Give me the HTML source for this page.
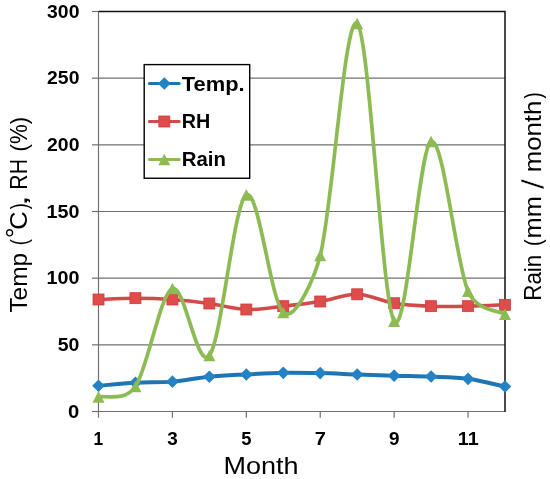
<!DOCTYPE html>
<html><head><meta charset="utf-8"><title>Chart</title>
<style>html,body{margin:0;padding:0;background:#fff}body{width:550px;height:479px;overflow:hidden}</style>
</head><body>
<svg width="550" height="479" viewBox="0 0 550 479" style="display:block;font-family:'Liberation Sans',sans-serif">
<rect width="550" height="479" fill="#fff"/>
<line x1="98.5" y1="344.83" x2="505.0" y2="344.83" stroke="#707070" stroke-width="1.2"/>
<line x1="98.5" y1="278.17" x2="505.0" y2="278.17" stroke="#707070" stroke-width="1.2"/>
<line x1="98.5" y1="211.50" x2="505.0" y2="211.50" stroke="#707070" stroke-width="1.2"/>
<line x1="98.5" y1="144.83" x2="505.0" y2="144.83" stroke="#707070" stroke-width="1.2"/>
<line x1="98.5" y1="78.17" x2="505.0" y2="78.17" stroke="#707070" stroke-width="1.2"/>
<line x1="92" y1="411.50" x2="98.5" y2="411.50" stroke="#707070" stroke-width="1.2"/>
<line x1="92" y1="344.83" x2="98.5" y2="344.83" stroke="#707070" stroke-width="1.2"/>
<line x1="92" y1="278.17" x2="98.5" y2="278.17" stroke="#707070" stroke-width="1.2"/>
<line x1="92" y1="211.50" x2="98.5" y2="211.50" stroke="#707070" stroke-width="1.2"/>
<line x1="92" y1="144.83" x2="98.5" y2="144.83" stroke="#707070" stroke-width="1.2"/>
<line x1="92" y1="78.17" x2="98.5" y2="78.17" stroke="#707070" stroke-width="1.2"/>
<line x1="92" y1="11.50" x2="98.5" y2="11.50" stroke="#707070" stroke-width="1.2"/>
<line x1="98.50" y1="411.50" x2="98.50" y2="417.8" stroke="#707070" stroke-width="1.2"/>
<line x1="172.41" y1="411.50" x2="172.41" y2="417.8" stroke="#707070" stroke-width="1.2"/>
<line x1="246.32" y1="411.50" x2="246.32" y2="417.8" stroke="#707070" stroke-width="1.2"/>
<line x1="320.23" y1="411.50" x2="320.23" y2="417.8" stroke="#707070" stroke-width="1.2"/>
<line x1="394.14" y1="411.50" x2="394.14" y2="417.8" stroke="#707070" stroke-width="1.2"/>
<line x1="468.05" y1="411.50" x2="468.05" y2="417.8" stroke="#707070" stroke-width="1.2"/>
<line x1="98.5" y1="11.50" x2="98.5" y2="412.00" stroke="#707070" stroke-width="1.2"/>
<line x1="98.5" y1="411.50" x2="505.0" y2="411.50" stroke="#707070" stroke-width="1.2"/>
<path d="M98.5,11.50 L505.0,11.50 L505.0,412.00" fill="none" stroke="#111" stroke-width="1.5"/>
<path d="M98.50,385.77 C104.66,385.26 123.14,383.39 135.45,382.70 C147.77,382.01 160.09,382.63 172.41,381.63 C184.73,380.63 197.05,377.90 209.36,376.70 C221.68,375.50 234.00,375.08 246.32,374.43 C258.64,373.79 270.95,373.06 283.27,372.83 C295.59,372.61 307.91,372.83 320.23,373.10 C332.55,373.37 344.86,374.01 357.18,374.43 C369.50,374.86 381.82,375.28 394.14,375.63 C406.45,375.99 418.77,376.03 431.09,376.57 C443.41,377.10 455.73,377.17 468.05,378.83 C480.36,380.50 498.84,385.28 505.00,386.57" fill="none" stroke="#1d76b3" stroke-width="4.0" stroke-linejoin="round" stroke-linecap="round"/>
<path d="M98.50,379.47 L104.80,385.77 L98.50,392.07 L92.20,385.77 Z" fill="#2482c4"/>
<path d="M135.45,376.40 L141.75,382.70 L135.45,389.00 L129.15,382.70 Z" fill="#2482c4"/>
<path d="M172.41,375.33 L178.71,381.63 L172.41,387.93 L166.11,381.63 Z" fill="#2482c4"/>
<path d="M209.36,370.40 L215.66,376.70 L209.36,383.00 L203.06,376.70 Z" fill="#2482c4"/>
<path d="M246.32,368.13 L252.62,374.43 L246.32,380.73 L240.02,374.43 Z" fill="#2482c4"/>
<path d="M283.27,366.53 L289.57,372.83 L283.27,379.13 L276.97,372.83 Z" fill="#2482c4"/>
<path d="M320.23,366.80 L326.53,373.10 L320.23,379.40 L313.93,373.10 Z" fill="#2482c4"/>
<path d="M357.18,368.13 L363.48,374.43 L357.18,380.73 L350.88,374.43 Z" fill="#2482c4"/>
<path d="M394.14,369.33 L400.44,375.63 L394.14,381.93 L387.84,375.63 Z" fill="#2482c4"/>
<path d="M431.09,370.27 L437.39,376.57 L431.09,382.87 L424.79,376.57 Z" fill="#2482c4"/>
<path d="M468.05,372.53 L474.35,378.83 L468.05,385.13 L461.75,378.83 Z" fill="#2482c4"/>
<path d="M505.00,380.27 L511.30,386.57 L505.00,392.87 L498.70,386.57 Z" fill="#2482c4"/>
<path d="M98.50,299.50 C104.66,299.28 123.14,298.17 135.45,298.17 C147.77,298.17 160.09,298.61 172.41,299.50 C184.73,300.39 197.05,301.83 209.36,303.50 C221.68,305.17 234.00,309.06 246.32,309.50 C258.64,309.94 270.95,307.50 283.27,306.17 C295.59,304.83 307.91,303.48 320.23,301.50 C332.55,299.52 344.86,294.01 357.18,294.30 C369.50,294.59 381.82,301.26 394.14,303.23 C406.45,305.21 418.77,305.68 431.09,306.17 C443.41,306.66 455.73,306.39 468.05,306.17 C480.36,305.94 498.84,305.06 505.00,304.83" fill="none" stroke="#d04b4a" stroke-width="3.5" stroke-linejoin="round" stroke-linecap="round"/>
<rect x="93.00" y="294.00" width="11.00" height="11.00" fill="#de4c4c" stroke="#cf3c3c" stroke-width="0.8"/>
<rect x="129.95" y="292.67" width="11.00" height="11.00" fill="#de4c4c" stroke="#cf3c3c" stroke-width="0.8"/>
<rect x="166.91" y="294.00" width="11.00" height="11.00" fill="#de4c4c" stroke="#cf3c3c" stroke-width="0.8"/>
<rect x="203.86" y="298.00" width="11.00" height="11.00" fill="#de4c4c" stroke="#cf3c3c" stroke-width="0.8"/>
<rect x="240.82" y="304.00" width="11.00" height="11.00" fill="#de4c4c" stroke="#cf3c3c" stroke-width="0.8"/>
<rect x="277.77" y="300.67" width="11.00" height="11.00" fill="#de4c4c" stroke="#cf3c3c" stroke-width="0.8"/>
<rect x="314.73" y="296.00" width="11.00" height="11.00" fill="#de4c4c" stroke="#cf3c3c" stroke-width="0.8"/>
<rect x="351.68" y="288.80" width="11.00" height="11.00" fill="#de4c4c" stroke="#cf3c3c" stroke-width="0.8"/>
<rect x="388.64" y="297.73" width="11.00" height="11.00" fill="#de4c4c" stroke="#cf3c3c" stroke-width="0.8"/>
<rect x="425.59" y="300.67" width="11.00" height="11.00" fill="#de4c4c" stroke="#cf3c3c" stroke-width="0.8"/>
<rect x="462.55" y="300.67" width="11.00" height="11.00" fill="#de4c4c" stroke="#cf3c3c" stroke-width="0.8"/>
<rect x="499.50" y="299.33" width="11.00" height="11.00" fill="#de4c4c" stroke="#cf3c3c" stroke-width="0.8"/>
<path d="M98.50,396.83 C104.66,395.10 124.63,402.29 135.45,386.43 C147.77,368.39 160.09,293.72 172.41,288.57 C184.73,283.41 197.05,371.12 209.36,355.50 C221.68,339.88 234.00,201.99 246.32,194.83 C258.64,187.68 270.95,302.46 283.27,312.57 C295.59,322.68 315.01,275.92 320.23,255.50 C332.55,207.32 344.86,12.57 357.18,23.50 C369.50,34.43 381.82,301.43 394.14,321.10 C406.45,340.77 418.77,146.48 431.09,141.50 C443.41,136.52 455.73,262.46 468.05,291.23 C476.60,311.22 498.84,310.34 505.00,314.17" fill="none" stroke="#8bbb52" stroke-width="3.7" stroke-linejoin="round" stroke-linecap="round"/>
<path d="M98.50,391.03 L104.50,402.63 L92.50,402.63 Z" fill="#8eba52"/>
<path d="M135.45,380.63 L141.45,392.23 L129.45,392.23 Z" fill="#8eba52"/>
<path d="M172.41,282.77 L178.41,294.37 L166.41,294.37 Z" fill="#8eba52"/>
<path d="M209.36,349.70 L215.36,361.30 L203.36,361.30 Z" fill="#8eba52"/>
<path d="M246.32,189.03 L252.32,200.63 L240.32,200.63 Z" fill="#8eba52"/>
<path d="M283.27,306.77 L289.27,318.37 L277.27,318.37 Z" fill="#8eba52"/>
<path d="M320.23,249.70 L326.23,261.30 L314.23,261.30 Z" fill="#8eba52"/>
<path d="M357.18,17.70 L363.18,29.30 L351.18,29.30 Z" fill="#8eba52"/>
<path d="M394.14,315.30 L400.14,326.90 L388.14,326.90 Z" fill="#8eba52"/>
<path d="M431.09,135.70 L437.09,147.30 L425.09,147.30 Z" fill="#8eba52"/>
<path d="M468.05,285.43 L474.05,297.03 L462.05,297.03 Z" fill="#8eba52"/>
<path d="M505.00,308.37 L511.00,319.97 L499.00,319.97 Z" fill="#8eba52"/>
<rect x="144.2" y="64.6" width="105.5" height="113.65" fill="#fff" stroke="#000" stroke-width="1.4"/>
<line x1="149.4" y1="83.5" x2="179.2" y2="83.5" stroke="#1d76b3" stroke-width="3.0" stroke-linecap="round"/>
<path d="M164.30,77.20 L170.60,83.50 L164.30,89.80 L158.00,83.50 Z" fill="#2482c4"/>
<line x1="149.4" y1="121.5" x2="179.2" y2="121.5" stroke="#d04b4a" stroke-width="3.0" stroke-linecap="round"/>
<rect x="158.80" y="116.00" width="11.00" height="11.00" fill="#de4c4c" stroke="#cf3c3c" stroke-width="0.8"/>
<line x1="149.4" y1="159.5" x2="179.2" y2="159.5" stroke="#8bbb52" stroke-width="3.0" stroke-linecap="round"/>
<path d="M164.30,153.70 L170.30,165.30 L158.30,165.30 Z" fill="#8eba52"/>
<text x="181.83" y="90.70" fill="#000" font-size="20.5" font-weight="bold" textLength="62.82" lengthAdjust="spacingAndGlyphs">Temp.</text>
<text x="181.80" y="128.20" fill="#000" font-size="20.5" font-weight="bold" textLength="28.51" lengthAdjust="spacingAndGlyphs">RH</text>
<text x="181.76" y="166.20" fill="#000" font-size="20.5" font-weight="bold" textLength="44.12" lengthAdjust="spacingAndGlyphs">Rain</text>
<text x="67.98" y="417.80" fill="#000" font-size="18.6" font-weight="bold" textLength="11.26" lengthAdjust="spacingAndGlyphs">0</text>
<text x="57.68" y="351.13" fill="#000" font-size="18.6" font-weight="bold" textLength="21.64" lengthAdjust="spacingAndGlyphs">50</text>
<text x="46.54" y="284.47" fill="#000" font-size="18.6" font-weight="bold" textLength="32.89" lengthAdjust="spacingAndGlyphs">100</text>
<text x="46.54" y="217.80" fill="#000" font-size="18.6" font-weight="bold" textLength="32.89" lengthAdjust="spacingAndGlyphs">150</text>
<text x="47.08" y="151.13" fill="#000" font-size="18.6" font-weight="bold" textLength="32.34" lengthAdjust="spacingAndGlyphs">200</text>
<text x="47.08" y="84.47" fill="#000" font-size="18.6" font-weight="bold" textLength="32.34" lengthAdjust="spacingAndGlyphs">250</text>
<text x="47.08" y="17.80" fill="#000" font-size="18.6" font-weight="bold" textLength="32.34" lengthAdjust="spacingAndGlyphs">300</text>
<text x="93.47" y="445.00" fill="#000" font-size="18.6" font-weight="bold" textLength="9.65" lengthAdjust="spacingAndGlyphs">1</text>
<text x="167.30" y="445.00" fill="#000" font-size="18.6" font-weight="bold" textLength="10.51" lengthAdjust="spacingAndGlyphs">3</text>
<text x="241.22" y="445.00" fill="#000" font-size="18.6" font-weight="bold" textLength="10.23" lengthAdjust="spacingAndGlyphs">5</text>
<text x="314.82" y="445.00" fill="#000" font-size="18.6" font-weight="bold" textLength="11.11" lengthAdjust="spacingAndGlyphs">7</text>
<text x="389.03" y="445.00" fill="#000" font-size="18.6" font-weight="bold" textLength="10.51" lengthAdjust="spacingAndGlyphs">9</text>
<text x="457.84" y="445.00" fill="#000" font-size="18.6" font-weight="bold" textLength="20.79" lengthAdjust="spacingAndGlyphs">11</text>
<text x="223.45" y="474.20" fill="#000" font-size="24.0" textLength="74.98" lengthAdjust="spacingAndGlyphs">Month</text>
<text transform="translate(26.50,312.10) rotate(-90)" fill="#000"><tspan x="-0.51" y="0.00" font-size="24.0" textLength="59.76" lengthAdjust="spacingAndGlyphs">Temp</tspan> <tspan x="66.87" y="0.00" font-size="24.0" textLength="6.02" lengthAdjust="spacingAndGlyphs">(</tspan><tspan x="73.82" y="-1.60" font-size="27.7" textLength="10.94" lengthAdjust="spacingAndGlyphs">°</tspan><tspan x="82.37" y="0.00" font-size="24.0" textLength="18.42" lengthAdjust="spacingAndGlyphs">C</tspan><tspan x="102.81" y="0.00" font-size="24.0" textLength="6.02" lengthAdjust="spacingAndGlyphs">)</tspan><tspan x="105.60" y="0.00" font-size="24.0" textLength="11.86" lengthAdjust="spacingAndGlyphs">,</tspan> <tspan x="122.43" y="0.00" font-size="24.0" textLength="30.67" lengthAdjust="spacingAndGlyphs">RH</tspan> <tspan x="160.71" y="0.00" font-size="24.0" textLength="34.51" lengthAdjust="spacingAndGlyphs">(%)</tspan></text>
<text transform="translate(540.70,298.90) rotate(-90)" fill="#000"><tspan x="-1.86" y="0.00" font-size="24.0" textLength="45.96" lengthAdjust="spacingAndGlyphs">Rain</tspan> <tspan x="52.88" y="0.00" font-size="24.0" textLength="6.53" lengthAdjust="spacingAndGlyphs">(</tspan><tspan x="60.41" y="0.00" font-size="24.0" textLength="42.36" lengthAdjust="spacingAndGlyphs">mm</tspan> <tspan x="109.60" y="3.70" font-size="32" textLength="10.27" lengthAdjust="spacingAndGlyphs" stroke="#fff" stroke-width="0.6">/</tspan> <tspan x="126.59" y="0.00" font-size="24.0" textLength="71.67" lengthAdjust="spacingAndGlyphs">month</tspan><tspan x="200.51" y="0.00" font-size="24.0" textLength="6.14" lengthAdjust="spacingAndGlyphs">)</tspan></text>
</svg>
</body></html>
